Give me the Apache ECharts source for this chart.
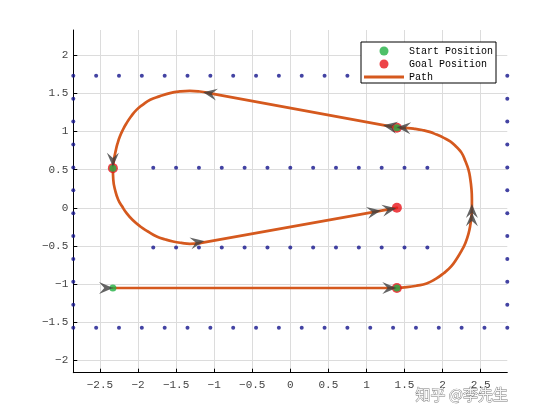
<!DOCTYPE html>
<html><head><meta charset="utf-8">
<script src="https://cdn.jsdelivr.net/npm/echarts@6/dist/echarts.min.js"></script>
<style>html,body{margin:0;padding:0;background:#fff}#c{width:560px;height:420px}</style>
</head><body><div id="c"></div>
<script>
// Start / goal positions of each leg
const startX = [-2.33, 1.4, 1.4, -2.33];
const startY = [-1.05, -1.05, 1.05, 0.52];
const goalX = [1.4, 1.4, -2.33, 1.4];
const goalY = [-1.05, 1.05, 0.52, 0];

// Path pieces (straight pieces and curved pieces)
const seg1X = [-2.33, 1.4];
const seg1Y = [-1.05, -1.05];
const seg2X = [1.4, 1.53, 1.66, 1.79, 1.91, 2.01, 2.11, 2.19, 2.25, 2.30, 2.34, 2.365, 2.38, 2.385, 2.385, 2.38, 2.365, 2.34, 2.30, 2.25, 2.18, 2.10, 2.01, 1.92, 1.83, 1.73, 1.64, 1.55, 1.4];
const seg2Y = [-1.05, -1.04, -1.02, -0.99, -0.93, -0.86, -0.77, -0.66, -0.56, -0.46, -0.34, -0.22, -0.10, 0.0, 0.12, 0.24, 0.37, 0.50, 0.61, 0.72, 0.80, 0.87, 0.92, 0.96, 0.995, 1.02, 1.035, 1.045, 1.05];
const seg3X = [1.4, -1.05];
const seg3Y = [1.05, 1.50];
const seg4X = [-1.05, -1.19, -1.32, -1.45, -1.58, -1.72, -1.84, -1.94, -2.02, -2.09, -2.15, -2.20, -2.24, -2.27, -2.29, -2.315, -2.33];
const seg4Y = [1.50, 1.524, 1.533, 1.525, 1.503, 1.46, 1.416, 1.35, 1.284, 1.20, 1.11, 1.02, 0.93, 0.84, 0.76, 0.64, 0.52];
const seg5X = [-2.33, -2.325, -2.30, -2.26, -2.21, -2.15, -2.07, -1.97, -1.87, -1.755, -1.64, -1.54, -1.43, -1.32, -1.19];
const seg5Y = [0.52, 0.37, 0.23, 0.105, 0.02, -0.07, -0.16, -0.245, -0.31, -0.376, -0.415, -0.441, -0.46, -0.472, -0.463];
const seg6X = [-1.19, 1.4];
const seg6Y = [-0.463, 0.0];

// Direction arrows (centre and heading in degrees, counter-clockwise from +x)
const arrowX = [-2.42, 1.30, 2.385, 2.385, 1.49, 1.31, -1.055, -2.33, -1.22, 1.10, 1.30];
const arrowY = [-1.05, -1.05, -0.04, -0.15, 1.05, 1.065, 1.50, 0.63, -0.45, -0.05, -0.02];
const arrowAngle = [0, 0, 90, 90, 176, 170, 170, -90, 10, 10, 10];

// Obstacle dots
const rowX = [-2.85, -2.55, -2.25, -1.95, -1.65, -1.35, -1.05, -0.75, -0.45, -0.15, 0.15, 0.45, 0.75, 1.05, 1.35, 1.65, 1.95, 2.25, 2.55, 2.85];
const rowY = [1.73, -1.57];
const colX = [-2.85, 2.85];
const colY = [1.43, 1.13, 0.83, 0.53, 0.23, -0.07, -0.37, -0.67, -0.97, -1.27];
const midX = [-1.8, -1.5, -1.2, -0.9, -0.6, -0.3, 0, 0.3, 0.6, 0.9, 1.2, 1.5, 1.8];
const midY = [0.525, -0.52];

const obstacles = [];
rowY.forEach(y => rowX.forEach(x => obstacles.push([x, y])));
colX.forEach(x => colY.forEach(y => obstacles.push([x, y])));
midY.forEach(y => midX.forEach(x => obstacles.push([x, y])));

const pair = (xs, ys) => xs.map((x, i) => [x, ys[i]]);
const startData = pair(startX, startY);
const goalData = pair(goalX, goalY);
const arrowData = arrowX.map((x, i) => ({value: [x, arrowY[i]], symbolRotate: arrowAngle[i]}));

const PATH_COLOR = '#D5591E';
const pathSeries = (xs, ys, smooth) => ({
  type: 'line', name: 'Path', data: pair(xs, ys), symbol: 'none', showSymbol: false, smooth: smooth,
  lineStyle: {color: PATH_COLOR, width: 2.7, cap: 'round', join: 'round'}, itemStyle: {color: PATH_COLOR},
  z: 3, clip: false, silent: true
});

const font = 'Liberation Mono';
const fmt = v => (Math.abs(v) < 1e-9 ? '0' : String(+v.toFixed(2)).replace('-', '\u2212'));
const G = '#dcdcdc', T = 'rgba(0,0,0,0)';
// split lines: first/last are the axis extents (hidden)
const xLineColors = [T, G, G, G, G, G, G, G, G, G, G, G, T];
const yLineColors = [T, G, G, G, G, G, G, G, G, G, T];

const chart = echarts.init(document.getElementById('c'), null, {renderer: 'canvas'});
chart.setOption({
  animation: false,
  backgroundColor: '#fff',
  grid: {left: 73.3, right: 52.7, top: 30, bottom: 47.3, containLabel: false, outerBoundsMode: 'none'},
  xAxis: {
    type: 'value', min: -2.85, max: 2.85, splitNumber: 11,
    axisLine: {show: true, onZero: false, lineStyle: {color: '#000', width: 1}},
    axisTick: {show: true, inside: true, length: 4, lineStyle: {color: '#000'}},
    axisLabel: {margin: 7, color: '#444', fontFamily: font, fontSize: 11, showMinLabel: false, showMaxLabel: false, formatter: fmt},
    splitLine: {show: true, lineStyle: {color: xLineColors, width: 1}}
  },
  yAxis: {
    type: 'value', min: -2.16, max: 2.33, splitNumber: 9,
    axisLine: {show: true, onZero: false, lineStyle: {color: '#000', width: 1}},
    axisTick: {show: true, inside: true, length: 4, lineStyle: {color: '#000'}},
    axisLabel: {margin: 5, color: '#444', fontFamily: font, fontSize: 11, showMinLabel: false, showMaxLabel: false, formatter: fmt},
    splitLine: {show: true, lineStyle: {color: yLineColors, width: 1}}
  },
  legend: {
    data: ['Start Position', 'Goal Position', {name: 'Path', icon: 'path://M0,0H40V3H0Z'}],
    orient: 'vertical', left: 361, top: 42,
    padding: [4, 3, 1, 3], itemGap: 3, itemWidth: 40, itemHeight: 9,
    backgroundColor: '#fff', borderColor: '#000', borderWidth: 1, borderRadius: 0,
    textStyle: {fontFamily: font, fontSize: 10, color: '#000'},
    z: 20
  },
  series: [
    {type: 'scatter', name: 'obstacles', data: obstacles, symbol: 'circle', symbolSize: 4,
     itemStyle: {color: '#14148c'}, silent: true, z: 2, clip: false},
    pathSeries(seg1X, seg1Y, false),
    pathSeries(seg2X, seg2Y, 0.5),
    pathSeries(seg3X, seg3Y, false),
    pathSeries(seg4X, seg4Y, 0.5),
    pathSeries(seg5X, seg5Y, 0.5),
    pathSeries(seg6X, seg6Y, false),
    {type: 'scatter', name: 'Goal Position', data: goalData, symbol: 'circle', symbolSize: 10,
     itemStyle: {color: '#E8141A'}, z: 4},
    {type: 'scatter', name: 'Start Position', data: startData, symbol: 'circle', symbolSize: 7,
     itemStyle: {color: '#22B043'}, z: 5},
    {type: 'scatter', name: 'arrows', data: arrowData,
     symbol: 'path://M0,0 L16,7 L0,14 L6,7 Z', symbolSize: [14, 12],
     itemStyle: {color: '#3d3d3d'}, z: 6, silent: true}
  ],
  graphic: [{
    type: 'text', left: 415, top: 386, z: 100,
    style: {text: '知乎 @李先生', fill: '#f4f4f4', stroke: '#7a7a7a', lineWidth: 0.8,
            font: '15px "Noto Sans CJK SC"'}
  }]
});
</script>
</body></html>
